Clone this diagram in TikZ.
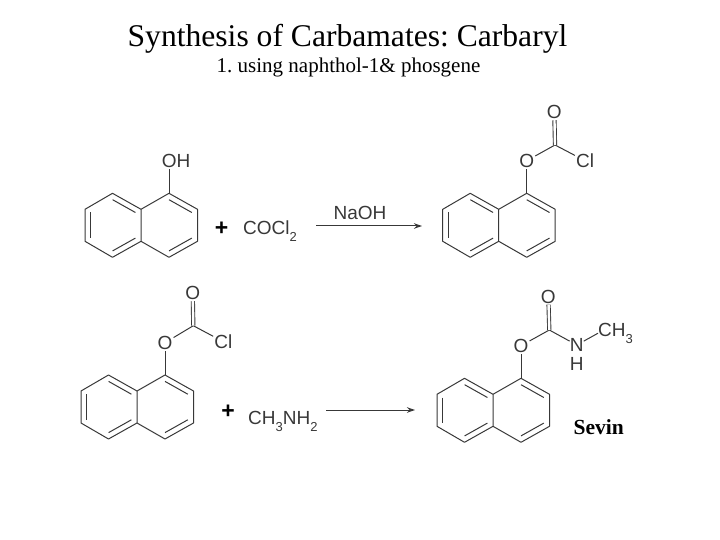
\documentclass[tikz,border=0pt]{standalone}
\usepackage{fontspec}
\setmainfont{Liberation Serif}
\setsansfont{Liberation Sans}
\usetikzlibrary{calc,arrows.meta}

\definecolor{bondgray}{gray}{0.22}

\newcommand{\innerbond}[3]{\draw[bond] ($(#1)!.8!(#2)$) -- ($(#1)!.8!(#3)$);}
\newcommand{\chemsub}[1]{\raisebox{-.4em}{\fontsize{13}{13}\selectfont #1}}

\tikzset{
    bond/.style={draw=bondgray, line width=1pt},
    dblbond/.style={draw=bondgray, line width=.9pt, double=white, double distance=2.4pt},
    atom/.style={text=bondgray, font=\sffamily\fontsize{19}{19}\selectfont, inner sep=1pt},
    plus/.style={font=\sffamily\bfseries\fontsize{23}{23}\selectfont, text=black, inner sep=0pt},
    reaction/.style={-{Stealth[length=8pt,width=5.5pt]}, draw=bondgray, line width=1pt},
    naph/.pic={
        \coordinate (-c1) at (0,0);
        \coordinate (-c2) at (28.5,16);
        \coordinate (-c3) at (28.5,48);
        \coordinate (-c4) at (0,64);
        \coordinate (-c4a) at (-28,48);
        \coordinate (-c5) at (-56.5,64);
        \coordinate (-c6) at (-84,48);
        \coordinate (-c7) at (-84,16);
        \coordinate (-c8) at (-56.5,0);
        \coordinate (-c8a) at (-28,16);
        \coordinate (-rr) at (0,32);
        \coordinate (-lr) at (-56,32);
        \draw[bond, line join=round] (-c1) -- (-c2) -- (-c3) -- (-c4) -- (-c4a) -- (-c5) -- (-c6) -- (-c7) -- (-c8) -- (-c8a) -- (-c1)
            (-c8a) -- (-c4a);
        \innerbond{-rr}{-c1}{-c2}
        \innerbond{-rr}{-c3}{-c4}
        \innerbond{-lr}{-c8}{-c8a}
        \innerbond{-lr}{-c7}{-c6}
        \innerbond{-lr}{-c5}{-c4a}
    }
}

\begin{document}
\frenchspacing
\begin{tikzpicture}[x=1pt, y=-1pt]
\useasboundingbox (0,0) rectangle (720,540);

\node[font=\fontsize{31.6}{33}\selectfont, inner sep=0pt] (title) at (347.5,39) {Synthesis of Carbamates: Carbaryl};
\node[font=\fontsize{21}{23}\selectfont, inner sep=0pt] (subtitle) at (348.5,67.5) {1. using naphthol-1\& phosgene};

% first reaction
\pic (naphthol) at (169,193.3) {naph};
\node[atom, anchor=center] (oh) at (176,161) {OH};
\draw[bond] (naphthol-c1) -- (oh.south -| naphthol-c1);
\node[plus] (plusa) at (221.7,229) {+};
\node[atom, anchor=base west, inner sep=0pt] (cocl) at (243,234) {COCl\chemsub{2}};
\node[atom, anchor=center] (naoh) at (360,213) {NaOH};
\coordinate (arrowa) at (316,226);
\coordinate (arrowb) at (422,226);
\draw[reaction] (arrowa) -- (arrowb);

\pic (chloro) at (526.7,193.3) {naph};
\node[atom] (oa) at (526.7,160.7) {O};
\coordinate (ca) at (555,145);
\node[atom] (ob) at (554.3,112.3) {O};
\node[atom] (cla) at (585,160.7) {Cl};
\draw[bond] (chloro-c1) -- (oa);
\draw[bond] (oa) -- (ca);
\draw[bond] (ca) -- (cla);
\draw[dblbond] (ca) -- (ob);

% second reaction
\pic (chlorob) at (165,375) {naph};
\node[atom] (oc) at (165,342.7) {O};
\coordinate (cb) at (193.3,325.7);
\node[atom] (od) at (192.7,293.3) {O};
\node[atom] (clb) at (223.3,341.7) {Cl};
\draw[bond] (chlorob-c1) -- (oc);
\draw[bond] (oc) -- (cb);
\draw[bond] (cb) -- (clb);
\draw[dblbond] (cb) -- (od);
\node[plus] (plusb) at (228,412) {+};
\node[atom, anchor=base west, inner sep=0pt] (amine) at (248,424) {CH\chemsub{3}NH\chemsub{2}};
\coordinate (arrowc) at (326,410);
\coordinate (arrowd) at (415,410);
\draw[reaction] (arrowc) -- (arrowd);

\pic (sevin) at (521,378.3) {naph};
\node[atom] (oe) at (521,345.7) {O};
\coordinate (cc) at (549.3,330);
\node[atom] (of) at (548.3,296.7) {O};
\node[atom, inner sep=0pt] (nh) at (576.7,345) {N};
\node[atom, inner sep=0pt] (hn) at (576.7,363.5) {H};
\node[atom, anchor=base west, inner sep=0pt] (ch) at (598,336) {CH\chemsub{3}};
\draw[bond] (sevin-c1) -- (oe);
\draw[bond] (oe) -- (cc);
\draw[bond] (cc) -- (nh);
\draw[bond] (nh) -- (ch.west);
\draw[dblbond] (cc) -- (of);
\node[font=\bfseries\fontsize{21.5}{22}\selectfont, inner sep=0pt] (sevinlabel) at (598.8,427) {Sevin};
\end{tikzpicture}
\end{document}
